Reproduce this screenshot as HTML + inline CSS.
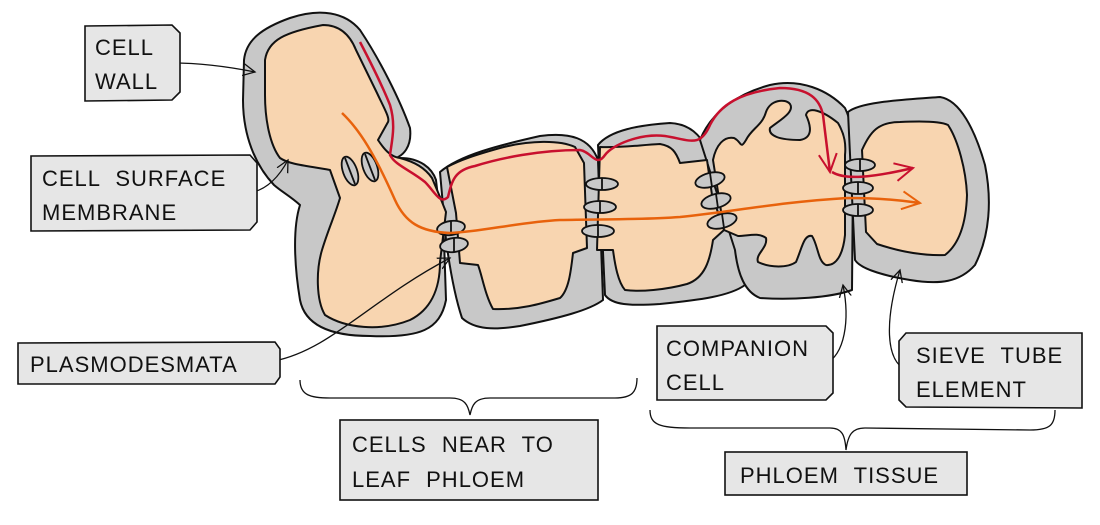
<!DOCTYPE html>
<html><head><meta charset="utf-8"><style>
html,body{margin:0;padding:0;background:#fff;}
svg{display:block;}
text{font-family:"Liberation Sans",sans-serif;font-size:22px;fill:#111;letter-spacing:1px;}
</style></head><body>
<svg width="1100" height="525" viewBox="0 0 1100 525" xmlns="http://www.w3.org/2000/svg">
<defs>
<marker id="ar" markerWidth="14" markerHeight="14" refX="12" refY="7" orient="auto" markerUnits="userSpaceOnUse"><path d="M0,1 L12,7 L0,13" fill="none" stroke="#111" stroke-width="1.3"/></marker>
<marker id="arR" markerWidth="24" markerHeight="24" refX="20" refY="12" orient="auto" markerUnits="userSpaceOnUse"><path d="M2,3 L20,12 L2,21" fill="none" stroke="#c8102e" stroke-width="2"/></marker>
<marker id="arO" markerWidth="24" markerHeight="24" refX="20" refY="12" orient="auto" markerUnits="userSpaceOnUse"><path d="M2,3 L20,12 L2,21" fill="none" stroke="#e8620c" stroke-width="2"/></marker>
</defs>
<g stroke="#111" stroke-width="2" stroke-linejoin="round">
<path fill="#c8c8c8" d="M244,60 C246,40 262,28 290,18 C320,8 345,12 360,30 C380,60 400,100 410,128 C412,145 405,158 388,160 L400,158 C420,158 432,168 436,180 L440,215 L444,240 L446,300 C440,330 420,338 370,336 C330,336 305,325 300,300 C295,270 292,230 300,205 C290,196 282,192 274,185 C255,165 243,135 243,100 Z"/>
<path fill="#c8c8c8" d="M440,172 C460,155 500,145 540,136 C570,132 590,138 598,160 L603,300 C590,310 560,318 520,326 C495,330 475,330 462,318 C456,300 450,270 446,240 Z"/>
<path fill="#c8c8c8" d="M598,145 C610,130 640,125 670,123 C690,124 700,135 708,150 L728,175 L740,240 L745,285 C730,296 700,300 660,304 C630,306 612,305 605,295 Z"/>
<path fill="#c8c8c8" d="M700,140 C712,110 740,93 770,85 C800,78 828,90 845,108 C853,125 856,150 853,175 L852,290 C830,298 790,300 760,298 C745,292 738,275 735,250 Z"/>
<path fill="#c8c8c8" d="M848,112 C860,102 900,100 940,97 C960,100 975,130 985,165 C992,200 990,235 975,265 C960,282 940,285 910,280 C880,275 860,268 855,260 Z"/>
<path fill="#f8d5b0" d="M265,60 C268,40 285,32 323,25 C340,25 350,35 356,50 L377,93 C384,108 390,118 388,122 L378,140 C386,152 392,157 400,158 C415,162 425,168 432,178 L440,197 L446,212 L440,262 C440,290 430,310 410,320 C380,332 345,328 325,315 C316,300 316,270 322,250 C328,230 335,215 340,198 L330,170 C310,166 290,165 280,158 C270,145 265,120 265,95 Z"/>
<path fill="#f8d5b0" d="M447,167 C460,160 475,155 500,148 C530,140 560,140 575,147 L584,163 L587,248 L573,253 C571,270 569,290 560,298 C540,304 520,310 493,309 C485,295 482,275 478,265 L460,263 L456,213 Z"/>
<path fill="#f8d5b0" d="M600,147 C620,148 640,145 660,144 C672,146 676,152 680,163 L707,160 L712,195 L724,230 L713,240 C710,260 705,278 687,284 C665,290 640,292 625,290 C618,282 615,265 613,250 L597,250 Z"/>
<path fill="#f8d5b0" d="M713,160 C716,145 724,136 734,138 C742,142 740,150 746,140 C752,128 762,126 766,112 C770,100 785,98 790,104 C795,112 780,120 770,128 C768,136 780,140 800,140 C812,138 812,128 806,115 C808,106 822,110 838,123 C845,135 846,145 845,155 L845,235 C843,255 836,266 826,265 C818,262 818,245 812,236 C804,234 802,248 796,262 C788,268 770,268 758,262 C755,254 768,248 766,238 C758,232 748,236 738,236 L724,230 Z"/>
<path fill="#f8d5b0" d="M862,150 C870,132 878,122 900,122 C920,121 940,121 948,125 C958,140 966,170 967,195 C966,225 958,245 945,255 C920,256 895,250 877,244 L866,232 Z"/>
</g>
<g stroke="#111" stroke-width="1.8" fill="#c8c8c8">
<ellipse cx="350" cy="171" rx="7" ry="15" transform="rotate(-20 350 171)"/><line x1="345" y1="158" x2="355" y2="184"/>
<ellipse cx="370" cy="167" rx="7" ry="15" transform="rotate(-20 370 167)"/><line x1="365" y1="154" x2="375" y2="180"/>
<ellipse cx="451" cy="228" rx="14" ry="7" transform="rotate(-8 451 228)"/><line x1="451" y1="221" x2="451" y2="235"/>
<ellipse cx="454" cy="245" rx="14" ry="7" transform="rotate(-8 454 245)"/><line x1="454" y1="238" x2="454" y2="252"/>
<ellipse cx="602" cy="184" rx="16" ry="6"/><line x1="602" y1="178" x2="602" y2="190"/>
<ellipse cx="600" cy="207" rx="16" ry="6"/><line x1="600" y1="201" x2="600" y2="213"/>
<ellipse cx="598" cy="231" rx="16" ry="6"/><line x1="598" y1="225" x2="598" y2="237"/>
<ellipse cx="710" cy="180" rx="15" ry="7" transform="rotate(-15 710 180)"/><line x1="710" y1="173" x2="712" y2="187"/>
<ellipse cx="716" cy="201" rx="15" ry="7" transform="rotate(-15 716 201)"/><line x1="716" y1="194" x2="718" y2="208"/>
<ellipse cx="722" cy="221" rx="15" ry="7" transform="rotate(-15 722 221)"/><line x1="722" y1="214" x2="724" y2="228"/>
<ellipse cx="860" cy="165" rx="15" ry="6"/><line x1="860" y1="159" x2="860" y2="171"/>
<ellipse cx="858" cy="188" rx="15" ry="6"/><line x1="858" y1="182" x2="858" y2="194"/>
<ellipse cx="858" cy="210" rx="15" ry="6"/><line x1="858" y1="204" x2="858" y2="216"/>
</g>
<path d="M360,42 C372,65 382,85 390,105 C396,125 392,140 390,155 C395,165 410,170 425,182 C435,192 440,205 448,197 C452,180 455,170 475,166 C500,158 540,150 580,150 C592,152 596,168 605,155 C612,145 640,133 665,136 C690,140 700,148 710,125 C720,105 740,92 780,88 C810,88 820,100 823,115 L830,172" fill="none" stroke="#c8102e" stroke-width="2.5" marker-end="url(#arR)"/>
<path d="M832,172 C845,180 870,178 913,168" fill="none" stroke="#c8102e" stroke-width="2.5" marker-end="url(#arR)"/>
<path d="M342,113 C360,130 375,155 395,200 C405,222 420,232 450,233 C480,232 520,222 560,220 C600,219 640,220 680,217 C730,212 780,202 847,198 C880,198 900,200 920,203" fill="none" stroke="#e8620c" stroke-width="2.5" marker-end="url(#arO)"/>
<g fill="none" stroke="#111" stroke-width="1.3">
<path d="M172,63 C200,63 230,67 255,72" marker-end="url(#ar)"/>
<circle cx="172" cy="63" r="2.5" fill="#fff"/>
<path d="M249,193 C268,190 280,175 288,160" marker-end="url(#ar)"/>
<circle cx="249" cy="193" r="2.5" fill="#fff"/>
<path d="M274,361 C330,350 370,300 450,258" marker-end="url(#ar)"/>
<circle cx="274" cy="361" r="2.5" fill="#fff"/>
<path d="M825,364 C845,355 850,320 843,285" marker-end="url(#ar)"/>
<circle cx="825" cy="364" r="2.5" fill="#fff"/>
<path d="M906,370 C885,360 885,320 900,270" marker-end="url(#ar)"/>
<circle cx="906" cy="370" r="2.5" fill="#fff"/>
<path d="M300,380 C300,395 310,398 330,398 L450,398 C465,398 468,405 470,415 C472,405 475,398 490,398 L615,398 C632,398 637,392 637,378"/>
<path d="M650,410 C650,425 660,428 690,428 L830,428 C842,428 845,435 846,450 C848,435 852,428 865,428 L1030,430 C1050,430 1055,425 1055,410"/>
</g>
<g fill="#e6e6e6" stroke="#111" stroke-width="1.6">
<path d="M85,26 L172,25 L180,33 L180,92 L172,100 L85,101 Z"/>
<path d="M31,156 L250,155 L257,163 L257,222 L250,230 L31,231 Z"/>
<path d="M18,343 L275,342 L280,349 L280,377 L275,384 L18,384 Z"/>
<path d="M657,326 L826,326 L833,333 L833,393 L826,400 L657,400 Z"/>
<path d="M906,333 L1082,333 L1082,408 L906,407 L899,400 L899,341 Z"/>
<rect x="340" y="420" width="258" height="80"/>
<rect x="725" y="452" width="242" height="43"/>
</g>
<text x="95" y="55">CELL</text><text x="95" y="89">WALL</text>
<text x="42" y="186" style="word-spacing:8px">CELL SURFACE</text><text x="42" y="220">MEMBRANE</text>
<text x="30" y="372">PLASMODESMATA</text>
<text x="666" y="356">COMPANION</text><text x="666" y="390">CELL</text>
<text x="916" y="363" style="word-spacing:8px">SIEVE TUBE</text><text x="916" y="397">ELEMENT</text>
<text x="352" y="452" style="word-spacing:8px">CELLS NEAR TO</text><text x="352" y="487" style="word-spacing:8px">LEAF PHLOEM</text>
<text x="740" y="483" style="word-spacing:8px">PHLOEM TISSUE</text>
</svg>
</body></html>
